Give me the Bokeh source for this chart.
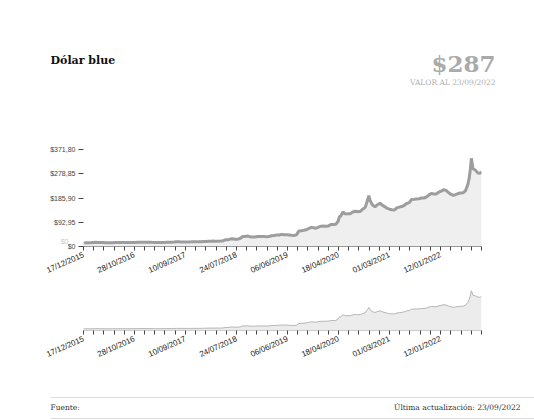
import pandas as pd
from bokeh.plotting import figure
from bokeh.layouts import column
from bokeh.models import Range1d, FixedTicker, LinearAxis
from bokeh.embed import file_html
from bokeh.resources import INLINE
from bokeh.core.properties import value

# ---------------- data ----------------
title = "Dólar blue"
last_value = "$287"
value_date = "VALOR AL 23/09/2022"
source_text = "Fuente:"
update_text = "Última actualización: 23/09/2022"

dates = [
    "2015-12-17", "2016-01-01", "2016-01-15", "2016-02-01", "2016-02-15", "2016-03-01", "2016-03-15",
    "2016-04-01", "2016-04-15", "2016-05-01", "2016-05-15", "2016-06-01", "2016-06-15", "2016-07-01",
    "2016-07-15", "2016-08-01", "2016-08-15", "2016-09-01", "2016-09-15", "2016-10-01", "2016-10-15",
    "2016-11-01", "2016-11-15", "2016-12-01", "2016-12-15",
    "2017-01-01", "2017-01-15", "2017-02-01", "2017-02-15", "2017-03-01", "2017-03-15", "2017-04-01",
    "2017-04-15", "2017-05-01", "2017-05-15", "2017-06-01", "2017-06-15", "2017-07-01", "2017-07-15",
    "2017-08-01", "2017-08-15", "2017-09-01", "2017-09-15", "2017-10-01", "2017-10-15", "2017-11-01",
    "2017-11-15", "2017-12-01", "2017-12-15",
    "2018-01-01", "2018-01-15", "2018-02-01", "2018-02-15", "2018-03-01", "2018-03-15", "2018-04-01",
    "2018-04-15", "2018-05-01", "2018-05-15", "2018-06-01", "2018-06-15", "2018-07-01", "2018-07-15",
    "2018-08-01", "2018-08-15", "2018-09-01", "2018-09-15", "2018-10-01", "2018-10-15", "2018-11-01",
    "2018-11-15", "2018-12-01", "2018-12-15",
    "2019-01-01", "2019-01-15", "2019-02-01", "2019-02-15", "2019-03-01", "2019-03-15", "2019-04-01",
    "2019-04-15", "2019-05-01", "2019-05-15", "2019-06-01", "2019-06-15", "2019-07-01", "2019-07-15",
    "2019-08-01", "2019-08-15", "2019-09-01", "2019-09-15", "2019-10-01", "2019-10-15", "2019-11-01",
    "2019-11-15", "2019-12-01", "2019-12-15",
    "2020-01-01", "2020-01-15", "2020-02-01", "2020-02-15", "2020-03-01", "2020-03-15", "2020-04-01",
    "2020-04-15", "2020-04-24", "2020-05-01", "2020-05-15", "2020-06-01", "2020-06-15", "2020-07-01",
    "2020-07-15", "2020-08-01", "2020-08-15", "2020-09-01", "2020-09-15", "2020-10-01", "2020-10-15",
    "2020-10-23", "2020-11-01", "2020-11-15", "2020-12-01", "2020-12-15",
    "2021-01-01", "2021-01-15", "2021-02-01", "2021-02-15", "2021-03-01", "2021-03-15", "2021-04-01",
    "2021-04-15", "2021-05-01", "2021-05-15", "2021-06-01", "2021-06-15", "2021-07-01", "2021-07-15",
    "2021-08-01", "2021-08-15", "2021-09-01", "2021-09-15", "2021-10-01", "2021-10-15", "2021-11-01",
    "2021-11-15", "2021-12-01", "2021-12-15",
    "2022-01-01", "2022-01-15", "2022-02-01", "2022-02-15", "2022-03-01", "2022-03-15", "2022-04-01",
    "2022-04-15", "2022-05-01", "2022-05-15", "2022-06-01", "2022-06-15", "2022-07-01", "2022-07-08",
    "2022-07-15", "2022-07-22", "2022-08-01", "2022-08-15", "2022-09-01", "2022-09-15", "2022-09-23",
]
values = [
    14.5, 13.9, 14.0, 14.1, 15.3, 16.0, 15.5,
    15.0, 14.9, 14.6, 14.6, 14.6, 14.5, 15.3,
    15.2, 15.3, 15.1, 15.3, 15.5, 15.6, 15.5,
    15.6, 15.9, 16.1, 16.3,
    16.4, 16.3, 16.1, 15.9, 15.8, 15.8, 15.7,
    15.6, 15.8, 16.1, 16.4, 16.6, 17.2, 17.8,
    18.0, 17.7, 17.6, 17.5, 17.7, 17.8, 18.0,
    17.9, 17.9, 18.2,
    19.2, 19.4, 20.2, 20.4, 20.7, 20.6, 20.6,
    20.8, 21.5, 25.5, 25.6, 28.5, 29.5, 28.1,
    28.2, 30.4, 38.5, 38.5, 40.5, 37.0, 36.5,
    36.8, 38.2, 38.5,
    38.5, 38.0, 37.6, 39.5, 41.5, 41.9, 44.5,
    44.2, 46.5, 45.2, 45.5, 44.3, 42.8, 42.1,
    44.5, 59.0, 60.5, 62.0, 64.5, 68.5, 73.5,
    71.5, 70.0, 74.5,
    78.0, 78.5, 78.0, 79.0, 84.0, 84.5, 85.5,
    96.0, 115.0, 116.0, 132.0, 124.0, 126.0, 126.0,
    132.0, 135.0, 133.0, 135.0, 143.0, 150.0, 177.0,
    195.0, 175.0, 159.0, 152.0, 160.0,
    166.0, 158.0, 152.0, 146.0, 143.0, 141.0, 140.0,
    148.0, 151.0, 153.0, 158.0, 165.0, 168.0, 180.0,
    181.0, 182.0, 183.0, 186.0, 186.0, 189.0, 198.0,
    203.0, 201.0, 201.0,
    208.0, 212.0, 218.0, 215.0, 207.0, 201.0, 196.0,
    199.0, 203.0, 205.0, 206.0, 213.0, 239.0, 260.0,
    291.0, 338.0, 298.0, 293.0, 282.0, 281.0, 287.0,
]
x_tick_labels = ["17/12/2015", "28/10/2016", "10/09/2017", "24/07/2018",
                 "06/06/2019", "18/04/2020", "01/03/2021", "12/01/2022"]
y_ticks = [0, 92.95, 185.90, 278.85, 371.80]
y_tick_labels = ["$0", "$92,95", "$185,90", "$278,85", "$371,80"]
ghost_tick = [20]
ghost_label = ["$0"]

# ---------------- derived ----------------
start = pd.Timestamp(dates[0])
x = [(pd.Timestamp(d) - start).days for d in dates]
x_end = x[-1]
majors = [(pd.to_datetime(s, dayfirst=True) - start).days for s in x_tick_labels]
step = (majors[-1] - majors[0]) / (len(majors) - 1) / 5.0
minors = []
for a, b in zip(majors[:-1], majors[1:]):
    for k in range(1, 5):
        minors.append(a + (b - a) * k / 5.0)
t = majors[-1] + step
while t <= x_end + 1:
    minors.append(t)
    t += step
x_overrides = {m: lab for m, lab in zip(majors, x_tick_labels)}
y_overrides = {t: lab for t, lab in zip(y_ticks, y_tick_labels)}

W = 534
AX_FONT = "Liberation Sans"
SERIF = "DejaVu Serif"


def blank(h):
    f = figure(width=W, height=h, x_range=Range1d(0, W), y_range=Range1d(h, 0),
               toolbar_location=None, output_backend="svg", min_border=0,
               x_axis_location=None, y_axis_location=None, frame_align=False)
    f.grid.visible = False
    f.outline_line_color = None
    return f


def style_x(ax, line_color):
    ax.ticker = FixedTicker(ticks=majors, minor_ticks=minors)
    ax.major_label_overrides = x_overrides
    ax.axis_line_color = line_color
    ax.major_tick_in = 0
    ax.major_tick_out = 4
    ax.minor_tick_in = 0
    ax.minor_tick_out = 4
    ax.major_tick_line_color = "#444444"
    ax.minor_tick_line_color = "#444444"
    ax.major_label_orientation = 0.42
    ax.major_label_standoff = 4
    ax.major_label_text_font = AX_FONT
    ax.major_label_text_font_size = "8px"
    ax.major_label_text_color = "#222222"


# ---------------- header ----------------
hdr = blank(140)
hdr.text(x=[50], y=[60], text=[title], text_font=value(SERIF), text_font_style="bold",
         text_font_size="11px", text_baseline="middle", text_color="#111111")
hdr.text(x=[495], y=[63], text=[last_value], text_font=value(SERIF), text_font_style="bold",
         text_font_size="23px", text_baseline="middle", text_align="right", text_color="#aaaaaa")
hdr.text(x=[495], y=[82], text=[value_date], text_font=value(SERIF),
         text_font_size="7.5px", text_baseline="middle", text_align="right", text_color="#b0b0b0")

# ---------------- main chart ----------------
main = figure(width=W, height=142, x_range=Range1d(0, x_end), y_range=Range1d(0, y_ticks[-1]),
              toolbar_location=None, output_backend="svg",
              min_border_left=83, min_border_right=53, min_border_top=9, min_border_bottom=36)
main.grid.visible = False
main.outline_line_color = None
main.varea(x=x, y1=[0] * len(x), y2=values, color="#efefef")
main.line(x=x, y=values, color="#9d9d9d", line_width=3)

ya = main.yaxis[0]
ya.ticker = FixedTicker(ticks=y_ticks)
ya.major_label_overrides = y_overrides
ya.axis_line_color = None
ya.major_tick_in = 0
ya.major_tick_out = 5
ya.minor_tick_line_color = None
ya.major_tick_line_color = "#444444"
ya.major_label_standoff = 3
ya.major_label_text_font = AX_FONT
ya.major_label_text_font_size = "7px"
ya.major_label_text_color = "#444444"

style_x(main.xaxis[0], "#999999")

# faint "$0" label drawn just above the real one
ghost = LinearAxis(ticker=FixedTicker(ticks=ghost_tick),
                   major_label_overrides={t: lab for t, lab in zip(ghost_tick, ghost_label)})
ghost.axis_line_color = None
ghost.major_tick_line_color = None
ghost.minor_tick_line_color = None
ghost.major_tick_in = 0
ghost.major_tick_out = 0
ghost.major_label_standoff = -21
ghost.major_label_text_font = AX_FONT
ghost.major_label_text_font_size = "7px"
ghost.major_label_text_color = "#c8c8c8"
main.add_layout(ghost, "left")

# ---------------- navigator ----------------
nav = figure(width=W, height=106, x_range=main.x_range, y_range=Range1d(0, max(values)),
             toolbar_location=None, output_backend="svg", y_axis_location=None,
             min_border_left=83, min_border_right=53, min_border_top=8, min_border_bottom=58)
nav.grid.visible = False
nav.outline_line_color = None
nav.varea(x=x, y1=[0] * len(x), y2=values, color="#ececec")
nav.line(x=x, y=values, color="#b5b5b5", line_width=1)
style_x(nav.xaxis[0], "#cccccc")

# ---------------- footer ----------------
ftr = blank(32)
ftr.segment(x0=[50, 50], y0=[9, 30], x1=[W, W], y1=[9, 30], line_color="#dddddd", line_width=1)
ftr.text(x=[50], y=[19], text=[source_text], text_font=value(SERIF), text_font_size="7.5px",
         text_baseline="middle", text_color="#333333")
ftr.text(x=[520], y=[19], text=[update_text], text_font=value(SERIF), text_font_size="7.5px",
         text_baseline="middle", text_align="right", text_color="#333333")

layout = column(hdr, main, nav, ftr, spacing=0)
open("out.html", "w").write(file_html(layout, INLINE))
